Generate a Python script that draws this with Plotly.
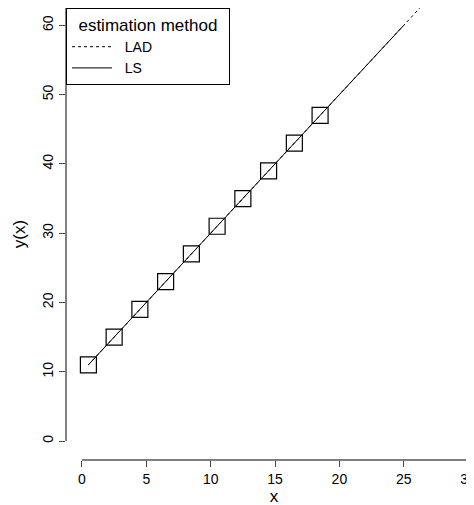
import plotly.graph_objects as go

x_pts = [0.5, 2.5, 4.5, 6.5, 8.5, 10.5, 12.5, 14.5, 16.5, 18.5]
y_pts = [11, 15, 19, 23, 27, 31, 35, 39, 43, 47]
lad_x = [0.5, 27]
lad_y = [11, 64]
ls_x = [0.5, 25]
ls_y = [11, 60]
xticks = [0, 5, 10, 15, 20, 25, 30]
yticks = [0, 10, 20, 30, 40, 50, 60]

F = "Liberation Sans, Arial, sans-serif"
fig = go.Figure()
fig.add_trace(go.Scatter(x=lad_x, y=lad_y, mode="lines", name="  LAD",
                         line=dict(color="black", width=1, dash="dot")))
fig.add_trace(go.Scatter(x=ls_x, y=ls_y, mode="lines", name="  LS",
                         line=dict(color="black", width=1)))
fig.add_trace(go.Scatter(x=x_pts, y=y_pts, mode="markers", showlegend=False,
                         marker=dict(symbol="square-open", size=16, color="black",
                                     line=dict(width=1.2))))
fig.update_layout(
    width=474, height=505, margin=dict(l=58, r=0, t=0, b=53),
    plot_bgcolor="white", paper_bgcolor="white",
    font=dict(family=F, size=14, color="black"),
    xaxis=dict(range=[-1.24, 31.08], tickvals=xticks, ticks="outside", ticklen=6,
               showgrid=False, zeroline=False, showline=False, automargin=False,
               title=dict(text="x", standoff=4), tickfont=dict(size=14)),
    yaxis=dict(range=[-2.74, 62.5], tickvals=yticks, ticks="outside", ticklen=6,
               showgrid=False, zeroline=False, showline=False, tickangle=-90,
               automargin=False,
               title=dict(text="y(x)", standoff=10), tickfont=dict(size=14)),
    legend=dict(x=0, y=1, xanchor="left", yanchor="top",
                title=dict(text="  estimation method  ", side="top"),
                bordercolor="black", borderwidth=1, bgcolor="white",
                itemwidth=40, font=dict(size=14)),
    shapes=[
        dict(type="line", xref="x", yref="paper", x0=0, x1=30, y0=0, y1=0,
             line=dict(color="black", width=1)),
        dict(type="line", xref="paper", yref="y", x0=0, x1=0, y0=0, y1=62.5,
             line=dict(color="black", width=1)),
    ],
)
fig.write_html("out.html")
